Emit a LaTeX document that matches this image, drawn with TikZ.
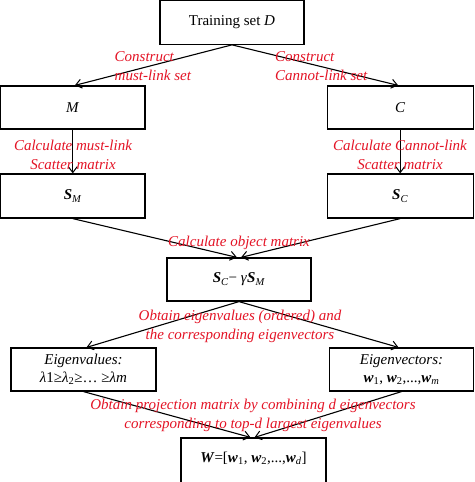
\documentclass[tikz,border=0pt]{standalone}
\usepackage{fontspec}
\setmainfont{Liberation Serif}
\usetikzlibrary{arrows.meta,calc}
\definecolor{lblred}{RGB}{228,20,38}
\tikzset{
  box/.style={draw=black, line width=1.2pt, inner sep=0pt, font=\fontsize{15}{18}\selectfont},
  conn/.style={line width=1.1pt, -{Straight Barb[length=6pt,width=9pt,line width=1pt]}},
  lbl/.style={text=lblred, inner sep=0pt, font=\fontsize{15}{19}\selectfont\itshape}
}
\newcommand{\bsym}[1]{\textbf{\textit{#1}}}
\begin{document}
\begin{tikzpicture}[x=1pt,y=-1pt]
\clip (0,0) rectangle (474,482);
\fill[white] (0,0) rectangle (474,482);
% boxes
\node[box, minimum width=144pt, minimum height=43.5pt] (D) at (232,22.5) {Training set \textit{D}};
\node[box, minimum width=144.4pt, minimum height=43pt] (M) at (72.8,107.5) {\textit{M}};
\node[box, minimum width=146pt, minimum height=43pt] (C) at (400.2,107.5) {\textit{C}};
\node[box, minimum width=144.4pt, minimum height=44pt] (SM) at (72.8,196) {\bsym{S}\textsubscript{\textit{M}}};
\node[box, minimum width=146pt, minimum height=44pt] (SC) at (400.2,196) {\bsym{S}\textsubscript{\textit{C}}};
\node[box, minimum width=144pt, minimum height=43pt] (O) at (239,279.5) {\bsym{S}\textsubscript{\textit{C}}− \textit{γ}\bsym{S}\textsubscript{\textit{M}}};
\node[box, minimum width=145pt, minimum height=43pt, align=center] (EVal) at (83.5,369.5) {\textit{Eigenvalues:}\\\textit{λ}1≥\textit{λ}\textsubscript{2}≥… ≥\textit{λm}};
\node[box, minimum width=144pt, minimum height=43pt, align=center] (EVec) at (401.5,369.5) {\textit{Eigenvectors:}\\\bsym{w}\textsubscript{1}, \bsym{w}\textsubscript{2},...,\bsym{w}\textsubscript{\textit{m}}};
\node[box, minimum width=145pt, minimum height=50pt] (W) at (253.5,463) {};
\node[font=\fontsize{15}{18}\selectfont, inner sep=0pt] (Wt) at (253.5,458.5) {\bsym{W}=[\bsym{w}\textsubscript{1}, \bsym{w}\textsubscript{2},...,\bsym{w}\textsubscript{\textit{d}}]};
% connectors
\draw[conn] (D.south) -- ($(M.north)+(2,0)$);
\draw[conn] (D.south) -- ($(C.north)+(-2,0)$);
\draw[conn] (M.south) -- (SM.north);
\draw[conn] (C.south) -- (SC.north);
\draw[conn] (SM.south) -- ($(O.north)+(-2,0)$);
\draw[conn] (SC.south) -- ($(O.north)+(2,0)$);
\draw[conn] (O.south) -- ($(EVal.north)+(3,0)$);
\draw[conn] (O.south) -- ($(EVec.north)+(-3,0)$);
\draw[conn] (EVal.south) -- ($(W.north)+(-3,0)$);
\draw[conn] (EVec.south) -- ($(W.north)+(1,0)$);
% labels
\node[lbl, align=left, anchor=west] (l1) at (114.5,66.5) {Construct\\must-link set};
\node[lbl, align=left, anchor=west] (l2) at (275,66.5) {Construct\\Cannot-link set};
\node[lbl, align=center] (l3) at (73,154.5) {Calculate must-link\\Scatter matrix};
\node[lbl, align=center] (l4) at (400,154.5) {Calculate Cannot-link\\Scatter matrix};
\node[lbl] (l5) at (239,243) {Calculate object matrix};
\node[lbl, align=center] (l6) at (240,326) {Obtain eigenvalues (ordered) and\\the corresponding eigenvectors};
\node[lbl, align=center] (l7) at (253,415) {Obtain projection matrix by combining d eigenvectors\\corresponding to top-d largest eigenvalues};
\end{tikzpicture}
\end{document}
